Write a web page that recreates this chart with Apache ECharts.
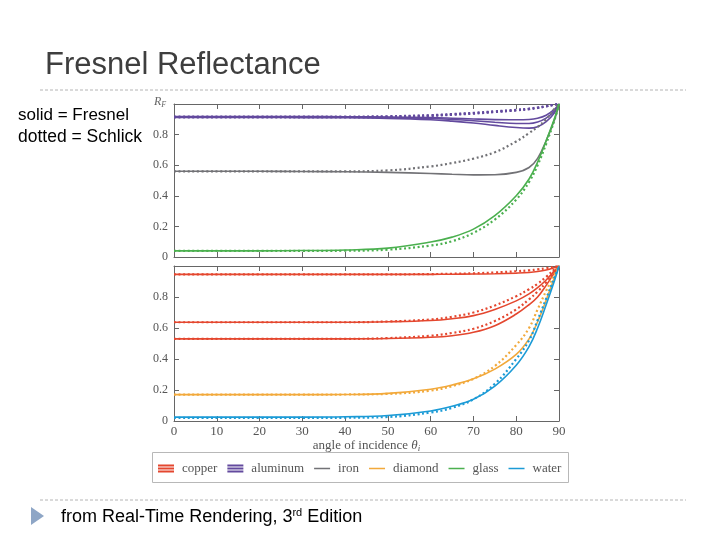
<!DOCTYPE html>
<html>
<head>
<meta charset="utf-8">
<script src="https://cdn.jsdelivr.net/npm/echarts@6/dist/echarts.min.js"></script>
<style>
  html, body { margin: 0; padding: 0; background: #fff; }
  #chart { width: 720px; height: 540px; }
</style>
</head>
<body>
<div id="chart"></div>
<script>
const ANGLES = [0, 10, 20, 30, 40, 50, 60, 65, 70, 75, 80, 83, 85, 87, 89, 90]
const X_TICKS = [0, 10, 20, 30, 40, 50, 60, 70, 80, 90]
const Y_TICKS = [0, 0.2, 0.4, 0.6, 0.8]
const MATERIALS = ['copper', 'aluminum', 'iron', 'diamond', 'glass', 'water']

// top panel: aluminum (R,G,B), iron, glass
const alR = [0.918, 0.918, 0.918, 0.918, 0.917, 0.915, 0.911, 0.907, 0.902, 0.898, 0.897, 0.899, 0.907, 0.927, 0.966, 1]
const alG = [0.915, 0.915, 0.915, 0.914, 0.913, 0.911, 0.905, 0.899, 0.891, 0.881, 0.873, 0.873, 0.883, 0.908, 0.956, 1]
const alB = [0.912, 0.912, 0.912, 0.911, 0.910, 0.906, 0.897, 0.888, 0.876, 0.860, 0.846, 0.842, 0.852, 0.885, 0.945, 1]
const alRs = [0.918, 0.918, 0.918, 0.918, 0.918, 0.920, 0.927, 0.934, 0.942, 0.952, 0.962, 0.970, 0.977, 0.986, 0.996, 1]
const alGs = [0.915, 0.915, 0.915, 0.915, 0.915, 0.917, 0.925, 0.932, 0.940, 0.950, 0.960, 0.968, 0.975, 0.985, 0.996, 1]
const alBs = [0.912, 0.912, 0.912, 0.912, 0.912, 0.914, 0.922, 0.929, 0.937, 0.947, 0.958, 0.966, 0.974, 0.984, 0.996, 1]
const iron = [0.56, 0.56, 0.56, 0.559, 0.557, 0.553, 0.546, 0.541, 0.537, 0.538, 0.553, 0.585, 0.645, 0.76, 0.9, 1]
const ironS = [0.56, 0.56, 0.56, 0.56, 0.56, 0.566, 0.592, 0.614, 0.643, 0.685, 0.755, 0.81, 0.85, 0.9, 0.97, 1]
const glass = [0.04, 0.04, 0.04, 0.042, 0.046, 0.058, 0.098, 0.13, 0.182, 0.27, 0.4, 0.51, 0.62, 0.76, 0.91, 1]
const glassS = [0.04, 0.04, 0.04, 0.04, 0.041, 0.048, 0.075, 0.103, 0.158, 0.245, 0.375, 0.49, 0.6, 0.74, 0.9, 1]

// bottom panel: copper (R,G,B), diamond, water
const cuR = [0.946, 0.946, 0.946, 0.946, 0.946, 0.946, 0.946, 0.947, 0.948, 0.95, 0.954, 0.958, 0.964, 0.974, 0.99, 1]
const cuG = [0.637, 0.637, 0.637, 0.637, 0.637, 0.64, 0.648, 0.66, 0.68, 0.72, 0.775, 0.82, 0.86, 0.91, 0.97, 1]
const cuB = [0.53, 0.53, 0.53, 0.53, 0.53, 0.532, 0.54, 0.55, 0.572, 0.615, 0.69, 0.75, 0.8, 0.875, 0.96, 1]
const cuRs = [0.946, 0.946, 0.946, 0.946, 0.946, 0.946, 0.948, 0.95, 0.953, 0.958, 0.966, 0.972, 0.978, 0.986, 0.996, 1]
const cuGs = [0.637, 0.637, 0.637, 0.637, 0.637, 0.642, 0.655, 0.672, 0.70, 0.745, 0.805, 0.85, 0.885, 0.93, 0.98, 1]
const cuBs = [0.53, 0.53, 0.53, 0.53, 0.53, 0.535, 0.55, 0.568, 0.595, 0.645, 0.72, 0.785, 0.835, 0.895, 0.97, 1]
const diamond = [0.17, 0.17, 0.17, 0.17, 0.171, 0.178, 0.205, 0.232, 0.272, 0.335, 0.43, 0.53, 0.64, 0.78, 0.93, 1]
const diamondS = [0.17, 0.17, 0.17, 0.17, 0.171, 0.175, 0.196, 0.225, 0.272, 0.355, 0.49, 0.6, 0.72, 0.84, 0.95, 1]
const water = [0.025, 0.025, 0.025, 0.025, 0.027, 0.035, 0.065, 0.095, 0.14, 0.225, 0.36, 0.48, 0.6, 0.75, 0.91, 1]
const waterS = [0.02, 0.02, 0.02, 0.02, 0.021, 0.026, 0.055, 0.085, 0.14, 0.24, 0.40, 0.52, 0.65, 0.79, 0.93, 1]

const COLORS = {
  copper: '#e4472f',
  aluminum: '#634a9e',
  iron: '#727276',
  diamond: '#f2a93b',
  glass: '#4bb04f',
  water: '#1c9bd6'
}

const serif = '"Liberation Serif", "DejaVu Serif", serif'
const sans = '"Liberation Sans", Arial, sans-serif'

function pts(vals) {
  return ANGLES.map((a, i) => [a, vals[i]])
}

function line(name, vals, panel, dotted) {
  return {
    name: name,
    type: 'line',
    xAxisIndex: panel * 2,
    yAxisIndex: panel * 2,
    data: pts(vals),
    smooth: 0.4,
    showSymbol: false,
    symbol: 'none',
    silent: true,
    color: COLORS[name],
    itemStyle: { color: COLORS[name] },
    lineStyle: dotted
      ? { color: COLORS[name], width: 2.2, type: [2, 2.6] }
      : { color: COLORS[name], width: 1.6 }
  }
}

function axesFor(panel, showLabels) {
  const tick = { show: true, inside: true, length: 5, lineStyle: { color: '#666' } }
  const axLine = { show: true, onZero: false, lineStyle: { color: '#666', width: 1 } }
  const xs = [
    {
      type: 'value', gridIndex: panel, min: 0, max: 90, interval: 10, position: 'bottom',
      axisLine: axLine, axisTick: tick, splitLine: { show: false },
      axisLabel: {
        show: showLabels, color: '#555', fontFamily: serif, fontSize: 13, margin: 4,
        formatter: v => X_TICKS.includes(v) ? String(v) : ''
      },
      name: showLabels ? '{a|angle of incidence }{t|θ}{i|i}' : '',
      nameLocation: 'middle', nameGap: 15,
      nameTextStyle: {
        rich: {
          a: { fontFamily: serif, fontSize: 13, color: '#555' },
          t: { fontFamily: serif, fontSize: 13, fontStyle: 'italic', color: '#555' },
          i: { fontFamily: serif, fontSize: 9, fontStyle: 'italic', color: '#555', verticalAlign: 'bottom', padding: [6, 0, 0, 0] }
        }
      }
    },
    {
      type: 'value', gridIndex: panel, min: 0, max: 90, interval: 10, position: 'top',
      axisLine: axLine, axisTick: tick, splitLine: { show: false }, axisLabel: { show: false }
    }
  ]
  const ys = [
    {
      type: 'value', gridIndex: panel, min: 0, max: 1, interval: 0.2, position: 'left',
      axisLine: axLine, axisTick: tick, splitLine: { show: false },
      axisLabel: {
        color: '#555', fontFamily: serif, fontSize: 12, margin: 6,
        formatter: v => {
          const t = Y_TICKS.find(y => Math.abs(y - v) < 1e-6)
          if (t === undefined) return ''
          return t === 0 ? '0' : t.toFixed(1)
        }
      }
    },
    {
      type: 'value', gridIndex: panel, min: 0, max: 1, interval: 0.2, position: 'right',
      axisLine: axLine, axisTick: tick, splitLine: { show: false }, axisLabel: { show: false }
    }
  ]
  return { xs, ys }
}

const topAxes = axesFor(0, false)
const botAxes = axesFor(1, true)

const series = [
  line('aluminum', alR, 0, false),
  line('aluminum', alG, 0, false),
  line('aluminum', alB, 0, false),
  line('aluminum', alRs, 0, true),
  line('aluminum', alGs, 0, true),
  line('aluminum', alBs, 0, true),
  line('iron', iron, 0, false),
  line('iron', ironS, 0, true),
  line('glass', glass, 0, false),
  line('glass', glassS, 0, true),
  line('copper', cuR, 1, false),
  line('copper', cuG, 1, false),
  line('copper', cuB, 1, false),
  line('copper', cuRs, 1, true),
  line('copper', cuGs, 1, true),
  line('copper', cuBs, 1, true),
  line('diamond', diamond, 1, false),
  line('diamond', diamondS, 1, true),
  line('water', water, 1, false),
  line('water', waterS, 1, true)
]

// legend icons: three bars for the RGB metals, one thin bar otherwise
const tripleIcon = 'path://M0,0h16v2h-16zM0,3h16v2h-16zM0,6h16v2h-16z'
const singleIcon = 'path://M0,0h0.05v0.05h-0.05zM0,3.2h16v1.6h-16zM0,7.95h0.05v0.05h-0.05z'

const myChart = echarts.init(document.getElementById('chart'), null, { renderer: 'canvas' })
const options = {
  backgroundColor: '#ffffff',
  animation: false,
  grid: [
    { left: 174, width: 385, top: 104, height: 153 },
    { left: 174, width: 385, top: 266, height: 155 }
  ],
  xAxis: [...topAxes.xs, ...botAxes.xs],
  yAxis: [...topAxes.ys, ...botAxes.ys],
  legend: {
    left: 158,
    top: 462,
    itemWidth: 16,
    itemHeight: 8,
    itemGap: 10,
    padding: 0,
    selectedMode: false,
    textStyle: { fontFamily: serif, fontSize: 13, color: '#555', padding: [0, 0, 0, 3] },
    data: MATERIALS.map(m => ({
      name: m,
      icon: (m === 'copper' || m === 'aluminum') ? tripleIcon : singleIcon,
      itemStyle: { color: COLORS[m] }
    }))
  },
  graphic: [
    {
      type: 'text', left: 45, top: 50,
      style: { text: 'Fresnel Reflectance', font: '31px ' + sans, fill: '#3e3e3e' }
    },
    {
      type: 'line', shape: { x1: 40, y1: 90, x2: 686, y2: 90 },
      style: { stroke: '#b4b4b4', lineWidth: 1, lineDash: [3, 2] }
    },
    {
      type: 'text', left: 18, top: 107,
      style: { text: 'solid = Fresnel', font: '17px ' + sans, fill: '#000' }
    },
    {
      type: 'text', left: 18, top: 128,
      style: { text: 'dotted = Schlick', font: '17.5px ' + sans, fill: '#000' }
    },
    {
      type: 'text', left: 154, top: 96,
      style: {
        text: '{r|R}{f|F}',
        rich: {
          r: { fontFamily: serif, fontSize: 12, fontStyle: 'italic', fill: '#666' },
          f: { fontFamily: serif, fontSize: 8, fontStyle: 'italic', fill: '#666', padding: [5, 0, 0, 0] }
        }
      }
    },
    {
      type: 'rect', shape: { x: 152.5, y: 452.5, width: 416, height: 30 },
      style: { fill: 'none', stroke: '#b8b8b8', lineWidth: 1 }
    },
    {
      type: 'line', shape: { x1: 40, y1: 500, x2: 686, y2: 500 },
      style: { stroke: '#b4b4b4', lineWidth: 1, lineDash: [3, 2] }
    },
    {
      type: 'polygon', shape: { points: [[31, 507], [31, 525], [44, 516]] },
      style: { fill: '#8ea6c6' }
    },
    {
      type: 'text', left: 61, top: 507,
      style: {
        text: '{a|from Real-Time Rendering, 3}{s|rd}{a| Edition}',
        rich: {
          a: { fontFamily: sans, fontSize: 18, fill: '#000', lineHeight: 21 },
          s: { fontFamily: sans, fontSize: 11, fill: '#000', verticalAlign: 'top', lineHeight: 21, padding: [0, 0, 8, 0] }
        }
      }
    }
  ],
  series: series
}
myChart.setOption(options)
</script>
</body>
</html>
